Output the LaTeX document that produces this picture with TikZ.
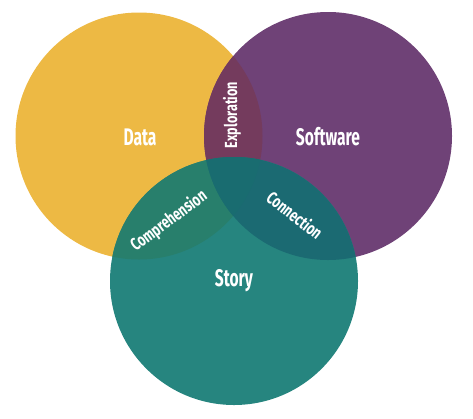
\documentclass[tikz,border=0pt]{standalone}
\usepackage{fontspec}
\newfontfamily\vennfont{Fira Sans}[FakeStretch=0.65]
\newfontfamily\lensfont{Fira Sans}[FakeStretch=0.72]
\definecolor{DataYellow}{HTML}{EDB944}
\definecolor{SoftPurple}{HTML}{6F4277}
\definecolor{StoryTeal}{HTML}{26857F}
\definecolor{ExplMaroon}{HTML}{743B5D}
\definecolor{CompGreen}{HTML}{287F6C}
\definecolor{ConnTeal}{HTML}{1B6A72}
\definecolor{MidTeal}{HTML}{196C70}

\begin{document}
\begin{tikzpicture}[x=1pt,y=-1pt]
	\tikzstyle{Big} = [text=white,inner sep=1pt,font=\vennfont\bfseries\fontsize{24}{24}\selectfont]
	\tikzstyle{Small} = [text=white,inner sep=1pt,font=\lensfont\bfseries\fontsize{17.5}{17.5}\selectfont]
	\useasboundingbox (0,0) rectangle (473,418);
	\fill[DataYellow] (139,136) circle (123.5);
	\fill[SoftPurple] (328,136) circle (124);
	\fill[StoryTeal] (234,281) circle (124);
	% overlaps
	\begin{scope}
		\clip (139,136) circle (123.5);
		\fill[ExplMaroon] (328,136) circle (124);
		\fill[CompGreen] (234,281) circle (124);
	\end{scope}
	\begin{scope}
		\clip (328,136) circle (124);
		\fill[ConnTeal] (234,281) circle (124);
		\clip (139,136) circle (123.5);
		\fill[MidTeal] (234,281) circle (124);
	\end{scope}
	\node[Big] (data) at (140,137) {Data};
	\node[Big] (software) at (328,137) {Software};
	\node[Big] (story) at (234,281) {Story};
	\node[Small,rotate=90] (expl) at (232,115) {Exploration};
	\node[Small,rotate=36.6] (comp) at (169,221) {Comprehension};
	\node[Small,rotate=-38] (conn) at (295,215) {Connection};
	
\end{tikzpicture}
\end{document}
